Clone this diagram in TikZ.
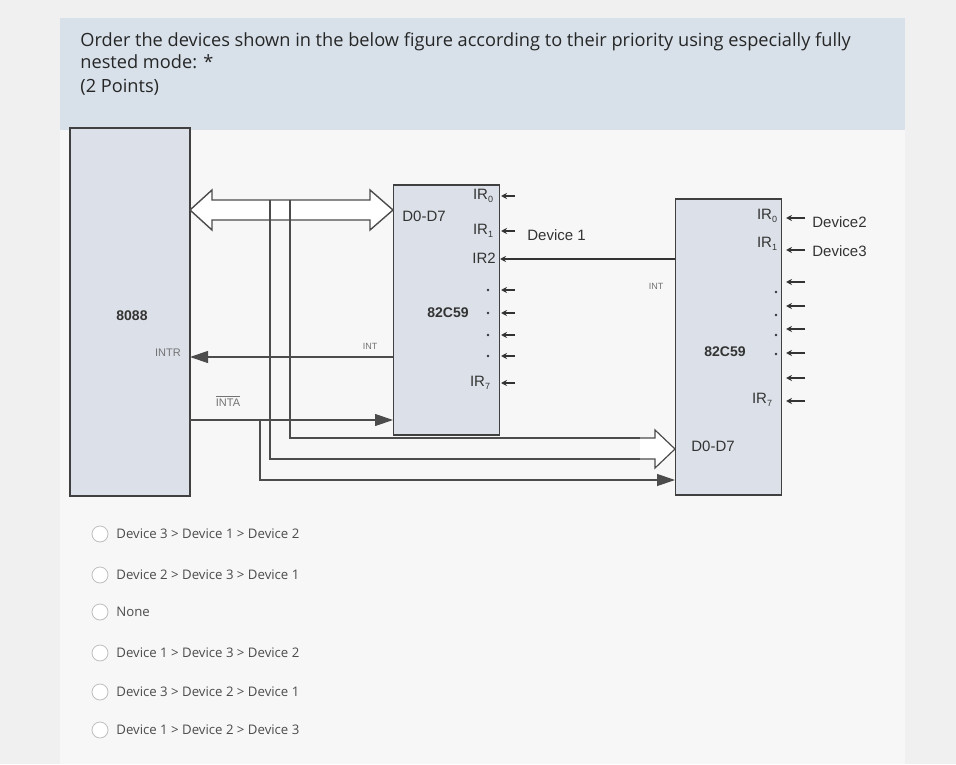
\documentclass[tikz,border=0pt]{standalone}
\usetikzlibrary{arrows.meta}
\usepackage{fontspec}
\setmainfont{Open Sans}
\newfontfamily\arialf{Liberation Sans}
\definecolor{hdrbg}{HTML}{D8E1EA}
\definecolor{chipbg}{HTML}{DCE1E9}
\newcommand{\irsub}[1]{\raisebox{-0.3ex}{\fontsize{4.5}{5}\selectfont #1}}
\begin{document}
\begin{tikzpicture}[x=0.5pt,y=-0.5pt,
  chip/.style={draw=black!75,line width=0.8pt,fill=chipbg},
  lbl/.style={font=\arialf\fontsize{7.5}{8}\selectfont,text=black!80,inner sep=0pt},
  small/.style={font=\arialf\fontsize{4.5}{5}\selectfont,text=black!55,inner sep=0pt},
  wire/.style={draw=black!70,line width=0.6pt},
  inarr/.style={draw=black!80,line width=0.6pt,-{Stealth[length=3pt,width=3pt]}},
  bigarr/.style={draw=black!70,line width=0.6pt,-{Triangle[length=9pt,width=6pt]}},
  opt/.style={font=\fontsize{6.6}{7}\selectfont,text=black!70,anchor=west,inner sep=0pt},
  radio/.style={circle,draw=black!25,fill=white,minimum size=8pt,inner sep=0pt},
  hdr/.style={font=\fontsize{9.1}{10}\selectfont,text=black!85,anchor=west,inner sep=0pt}]
\useasboundingbox (0,0) rectangle (956,764);
\fill[gray!12] (0,0) rectangle (956,764);
\fill[hdrbg] (60,18) rectangle (905,130);
\fill[gray!6] (60,130) rectangle (905,764);
\node[hdr] (q1) at (80,42) {Order the devices shown in the below figure according to their priority using especially fully};
\node[hdr] (q2) at (80,62) {nested mode: *};
\node[hdr] (q3) at (80,87) {(2 Points)};
% chips
\node[chip,minimum width=60pt,minimum height=184pt,inner sep=0pt] (cpu) at (130,312) {};
\node[lbl,font=\arialf\bfseries\fontsize{7}{8}\selectfont] (t8088) at (132,316) {8088};
\node[small,font=\arialf\fontsize{5.5}{6}\selectfont] (intr) at (168,353) {INTR};
\node[small,font=\arialf\fontsize{5.5}{6}\selectfont] (inta) at (228,401) {$\overline{\mbox{INTA}}$};
\node[chip,minimum width=53pt,minimum height=125pt,inner sep=0pt] (pic1) at (446.5,310) {};
\node[chip,minimum width=53pt,minimum height=148pt,inner sep=0pt] (pic2) at (728.5,347) {};
% bus double arrow
\path[draw=black!70,fill=white,line width=0.7pt] (190,210)--(212,190)--(212,200)--(370,200)--(370,190)--(393,210)--(370,230)--(370,220)--(212,220)--(212,230)--cycle;
% vertical bus and lines to pic2 D0-D7
\coordinate (v1t) at (270,200); \coordinate (v2t) at (290,200);
\coordinate (v1b) at (270,459); \coordinate (v2b) at (290,438);
\draw[wire] (v1t)--(v1b)--(640,459);
\draw[wire] (v2t)--(v2b)--(640,438);
\path[draw=black!70,fill=white,line width=0.6pt] (640,438)--(655,438)--(655,430)--(675,449)--(655,468)--(655,459)--(640,459);
% INTA
\coordinate (intaL) at (190,420); \coordinate (intaB) at (260,420);
\draw[bigarr] (intaL)--(393,420);
\draw[bigarr] (intaB)--(260,480)--(675,480);
% INT -> INTR
\draw[bigarr] (393,357)--(190,357);
\node[small] (int1) at (370,346) {INT};
% pic2 INT -> IR2
\draw[inarr] (675,259)--(500,259);
\node[small] (int2) at (656,286) {INT};
% pic1 labels
\node[lbl] (d07a) at (424,216) {D0-D7};
\node[lbl] (ir0a) at (483,196) {IR\irsub{0}};
\node[lbl] (ir1a) at (483,231) {IR\irsub{1}};
\node[lbl] (ir2a) at (484,258) {IR2};
\node[lbl,font=\arialf\bfseries\fontsize{7}{8}\selectfont] (c59a) at (448,313) {82C59};
\node[lbl] (ir7a) at (480,383) {IR\irsub{7}};
\foreach \y in {290,313,335,356} \fill[black!80] (488,\y) circle (1.3);
\foreach \y/\n in {196/a0,231/a1,290/a3,313/a4,335/a5,356/a6,383/a7} {\coordinate (s\n) at (515,\y); \draw[inarr] (s\n)--(501,\y);}
\node[lbl,anchor=west] (dev1) at (527,235) {Device 1};
% pic2 labels
\node[lbl] (ir0b) at (767,216) {IR\irsub{0}};
\node[lbl] (ir1b) at (767,244) {IR\irsub{1}};
\node[lbl,font=\arialf\bfseries\fontsize{7}{8}\selectfont] (c59b) at (725,352) {82C59};
\node[lbl] (ir7b) at (762,400) {IR\irsub{7}};
\node[lbl] (d07b) at (713,446) {D0-D7};
\foreach \y in {292,315,335,354} \fill[black!80] (776,\y) circle (1.3);
\foreach \y/\n in {218/b0,250/b1,282/b2,306/b3,329/b4,353/b5,378/b6,401/b7} {\coordinate (s\n) at (805,\y); \draw[inarr] (s\n)--(786,\y);}
\node[lbl,anchor=west] (dev2) at (812,222) {Device2};
\node[lbl,anchor=west] (dev3) at (812,251) {Device3};
% options
\foreach \y/\t/\n in {534/{Device 3 > Device 1 > Device 2}/1,575/{Device 2 > Device 3 > Device 1}/2,612/{None}/3,653/{Device 1 > Device 3 > Device 2}/4,692/{Device 3 > Device 2 > Device 1}/5,730/{Device 1 > Device 2 > Device 3}/6}{
  \node[radio] (r\n) at (100,\y) {};
  \node[opt] (o\n) at (116,\y) {\t};
}
\end{tikzpicture}
\end{document}
